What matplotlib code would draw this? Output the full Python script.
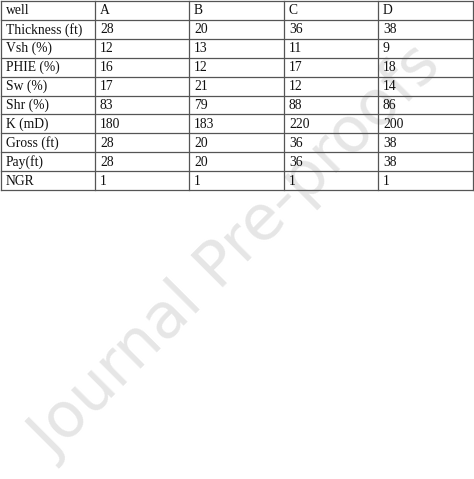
import matplotlib
matplotlib.use("Agg")
import matplotlib.pyplot as plt

header = ["well", "A", "B", "C", "D"]
row_labels = ["Thickness (ft)", "Vsh (%)", "PHIE (%)", "Sw (%)", "Shr (%)",
              "K (mD)", "Gross (ft)", "Pay(ft)", "NGR"]
well_a = [28, 12, 16, 17, 83, 180, 28, 28, 1]
well_b = [20, 13, 12, 21, 79, 183, 20, 20, 1]
well_c = [36, 11, 17, 12, 88, 220, 36, 36, 1]
well_d = [38, 9, 18, 14, 86, 200, 38, 38, 1]

W, H = 474, 479
fig = plt.figure(figsize=(W / 100, H / 100), dpi=100)
ax = fig.add_axes([0, 0, 1, 1])
ax.set_xlim(0, W)
ax.set_ylim(H, 0)
ax.axis("off")

# watermark
ax.text(236, 252, "Journal Pre-proofs", rotation=45, fontsize=45,
        color="#e6e6e6", ha="center", va="center", family="DejaVu Sans", zorder=0)

col_x = [1, 95, 189, 284, 378, 473]
row_h = 18.9
top = 1
n_rows = len(row_labels) + 1
rows = [header] + [[row_labels[i], well_a[i], well_b[i], well_c[i], well_d[i]]
                   for i in range(len(row_labels))]

lc = "#555555"
for r in range(n_rows + 1):
    y = top + r * row_h
    ax.plot([col_x[0], col_x[-1]], [y, y], color=lc, lw=0.9)
for x in col_x:
    ax.plot([x, x], [top, top + n_rows * row_h], color=lc, lw=0.9)

for r, row in enumerate(rows):
    yc = top + (r + 0.5) * row_h + 0.5
    for c, val in enumerate(row):
        ax.text(col_x[c] + 5, yc, str(val), fontsize=9.8, family="Liberation Serif",
                va="center", ha="left", color="#111111")

fig.savefig("out.png", dpi=100)
